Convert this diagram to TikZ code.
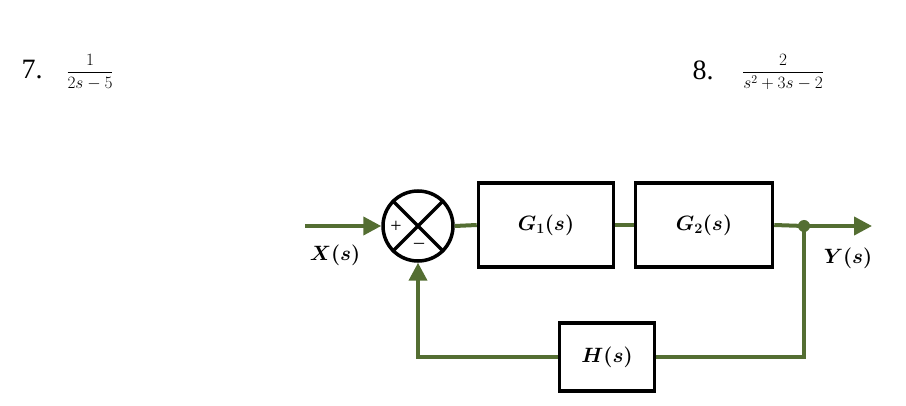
\documentclass[tikz,border=0pt]{standalone}
\usepackage{amsmath,amssymb,bm}
\usepackage{fontspec}
\setmainfont{Liberation Serif}
\usetikzlibrary{arrows.meta}
\definecolor{gline}{RGB}{84,110,50}
\begin{document}
\begin{tikzpicture}[x=1pt,y=-1pt,
  blk/.style={draw=black,line width=3.5pt,minimum width=#1,inner sep=0pt},
  sig/.style={draw=gline,line width=4pt},
  arr/.style={sig,-{Triangle[length=18pt,width=18pt]}},
  lab/.style={font=\fontsize{22}{26}\selectfont}]
\useasboundingbox (0,0) rectangle (906,406);
\node[font=\fontsize{28}{32}\selectfont] (n7) at (32,70) {7.};
\node[font=\fontsize{18}{22}\selectfont] (f7) at (90,72) {$\dfrac{1}{2s-5}$};
\node[font=\fontsize{28}{32}\selectfont] (n8) at (703,70) {8.};
\node[font=\fontsize{18}{22}\selectfont] (f8) at (783,72) {$\dfrac{2}{s^2+3s-2}$};
\node[draw,circle,line width=3.5pt,minimum size=70pt,inner sep=0pt] (sum) at (418,226) {};
\draw[line width=3.5pt] (sum.north west) -- (sum.south east) (sum.north east) -- (sum.south west);
\node[font=\fontsize{20}{22}\selectfont] (pl) at (396,227) {+};
\node[font=\fontsize{20}{22}\selectfont] (mi) at (419,246) {--};
\node[blk=135pt,minimum height=84pt] (g1) at (546,225) {};
\node[lab] (g1t) at (546,225) {$\bm{G_1(s)}$};
\node[blk=137pt,minimum height=84pt] (g2) at (704,225) {};
\node[lab] (g2t) at (704,225) {$\bm{G_2(s)}$};
\node[blk=95pt,minimum height=68pt] (h) at (607,357) {};
\node[lab] (ht) at (607,357) {$\bm{H(s)}$};
\coordinate (in) at (305,226);
\coordinate (out) at (872,226);
\coordinate (dot) at (804,226);
\draw[arr] (in) -- (sum.west);
\draw[sig] (sum.east) -- (g1.west);
\draw[sig] (g1.east) -- (g2.west);
\draw[sig] (g2.east) -- (dot);
\draw[arr] (dot) -- (out);
\fill[gline] (dot) circle (6pt);
\draw[sig] (dot) |- (h.east);
\draw[arr] (h.west) -| (sum.south);
\node[lab] (x) at (335,255) {$\bm{X(s)}$};
\node[lab] (y) at (848,258) {$\bm{Y(s)}$};
\end{tikzpicture}
\end{document}
